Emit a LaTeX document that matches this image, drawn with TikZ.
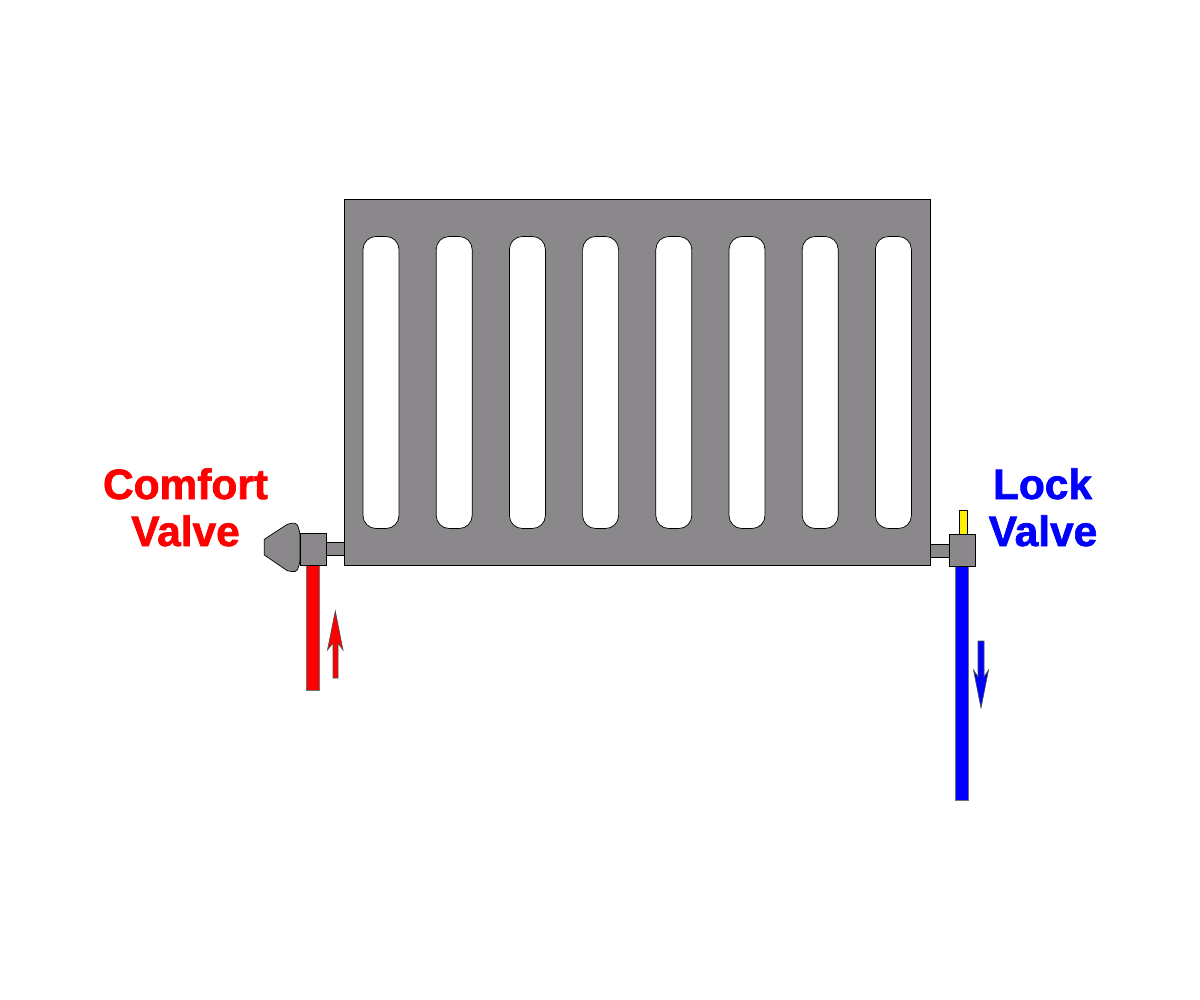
\documentclass[tikz,border=0pt]{standalone}
\usepackage{fontspec}
\setmainfont{Liberation Sans}
\newfontfamily\capfont[FakeBold=1.6]{Liberation Sans Bold}
\tikzset{
  part/.style = {draw = black, line width = .7pt, fill = bodygray},
  pipe/.style = {draw = black!55, line width = .7pt, inner sep = 0pt},
  box/.style = {part, inner sep = 0pt},
  slot/.style = {draw = black, line width = .7pt, fill = white, rounded corners = 13pt},
  flow/.style = {draw = black!70, line width = .6pt},
  caption/.style = {font = \fontsize{42.4}{42.4}\capfont, anchor = base, inner sep = 0pt}
}
\definecolor{bodygray}{HTML}{8A888B}
\begin{document}
\begin{tikzpicture}[x = 1pt, y = -1pt]
\useasboundingbox (0,0) rectangle (1200,1000);
% stubs go under the radiator edge
\node[box, minimum width = 19pt, minimum height = 13pt] (hotstub) at (335.5,548.5) {};
\node[box, minimum width = 19pt, minimum height = 13pt] (coldstub) at (939.5,550.5) {};
% radiator
\node[box, minimum width = 585.5pt, minimum height = 366pt] (radiator) at (637.25,382.5) {};
\foreach \i in {0,...,7} {
  \draw[slot] (363+73.2*\i,236.5) rectangle (399+73.2*\i,528.5);
}
% comfort side
\node[pipe, fill = red, minimum width = 13pt, minimum height = 125pt] (hotpipe) at (312.5,627.5) {};
\draw[part] (264.3,555) -- (264.3,539.3) -- (287,524.5) [rounded corners = 2pt] -- (289.3,523.3) -- (297,523.3)
  -- (300,533) -- (300,562) -- (297,571.5) -- (289.3,571.5) [sharp corners] -- (287,570.5) -- cycle;
\node[box, minimum width = 26pt, minimum height = 32pt] (hotvalve) at (313,549) {};
\draw[flow, fill = red] (333,678) -- (333,643) -- (327.5,650) -- (335.3,611) -- (343,650) -- (338,643) -- (338,678) -- cycle;
\node[caption, text = red] (comfort) at (185.5,499) {Comfort};
\node[caption, text = red] (hotvalvename) at (185.5,546) {Valve};
% lock side
\node[pipe, fill = blue, minimum width = 12.5pt, minimum height = 234pt] (coldpipe) at (962,683) {};
\node[pipe, draw = black, fill = yellow, minimum width = 8pt, minimum height = 24pt] (lockpin) at (963,522) {};
\node[box, minimum width = 26pt, minimum height = 32.5pt] (coldvalve) at (962,550.3) {};
\draw[flow, fill = blue] (978,641) -- (984,641) -- (984,677) -- (988.5,670) -- (981,708) -- (973.5,670) -- (978,677) -- cycle;
\node[caption, text = blue] (lock) at (1042.5,499) {Lock};
\node[caption, text = blue] (coldvalvename) at (1043,546) {Valve};
\end{tikzpicture}
\end{document}
